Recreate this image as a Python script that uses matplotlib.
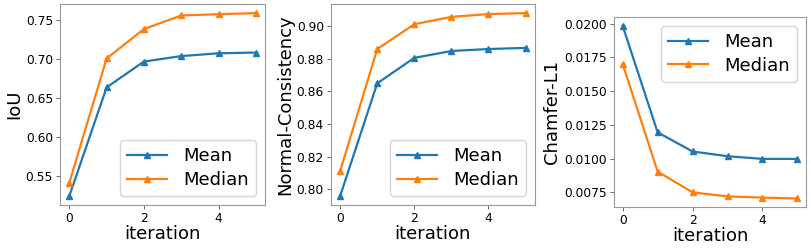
import matplotlib.pyplot as plt
import numpy as np

# data
iterations = [0, 1, 2, 3, 4, 5]

iou_mean = [0.525, 0.664, 0.697, 0.704, 0.7076, 0.7085]
iou_median = [0.542, 0.701, 0.7386, 0.756, 0.7576, 0.759]

nc_mean = [0.796, 0.865, 0.8806, 0.8848, 0.886, 0.8867]
nc_median = [0.8113, 0.886, 0.9012, 0.9057, 0.9074, 0.908]

cd_mean = [0.01985, 0.01195, 0.01053, 0.01018, 0.00998, 0.00998]
cd_median = [0.01702, 0.00904, 0.0075, 0.0072, 0.00711, 0.00705]

panels = [
    ('IoU', iou_mean, iou_median, 'lower right', [0.074, 0.173, 0.253, 0.811]),
    ('Normal-Consistency', nc_mean, nc_median, 'lower right', [0.408, 0.173, 0.2515, 0.811]),
    ('Chamfer-L1', cd_mean, cd_median, 'upper right', [0.757, 0.165, 0.237, 0.766]),
]

fig = plt.figure(figsize=(8.11, 2.48), dpi=100)

for ylabel, mean, median, loc, rect in panels:
    ax = fig.add_axes(rect)
    ax.plot(iterations, mean, marker='^', markersize=5, linewidth=1.6,
            color='#1f77b4', label='Mean')
    ax.plot(iterations, median, marker='^', markersize=5, linewidth=1.6,
            color='#ff7f0e', label='Median')
    ax.set_xticks([0, 2, 4])
    ax.tick_params(labelsize=8.8, length=3, width=0.6, color='#555555', pad=2)
    ax.set_xlabel('iteration', fontsize=13, labelpad=0)
    ax.set_ylabel(ylabel, fontsize=13, labelpad=2)
    for sp in ax.spines.values():
        sp.set_color('#999999')
        sp.set_linewidth(0.8)
    ax.legend(loc=loc, fontsize=13, handlelength=2.2, borderpad=0.4,
              labelspacing=0.3, handletextpad=0.9)

plt.savefig('out.png', dpi=100)
